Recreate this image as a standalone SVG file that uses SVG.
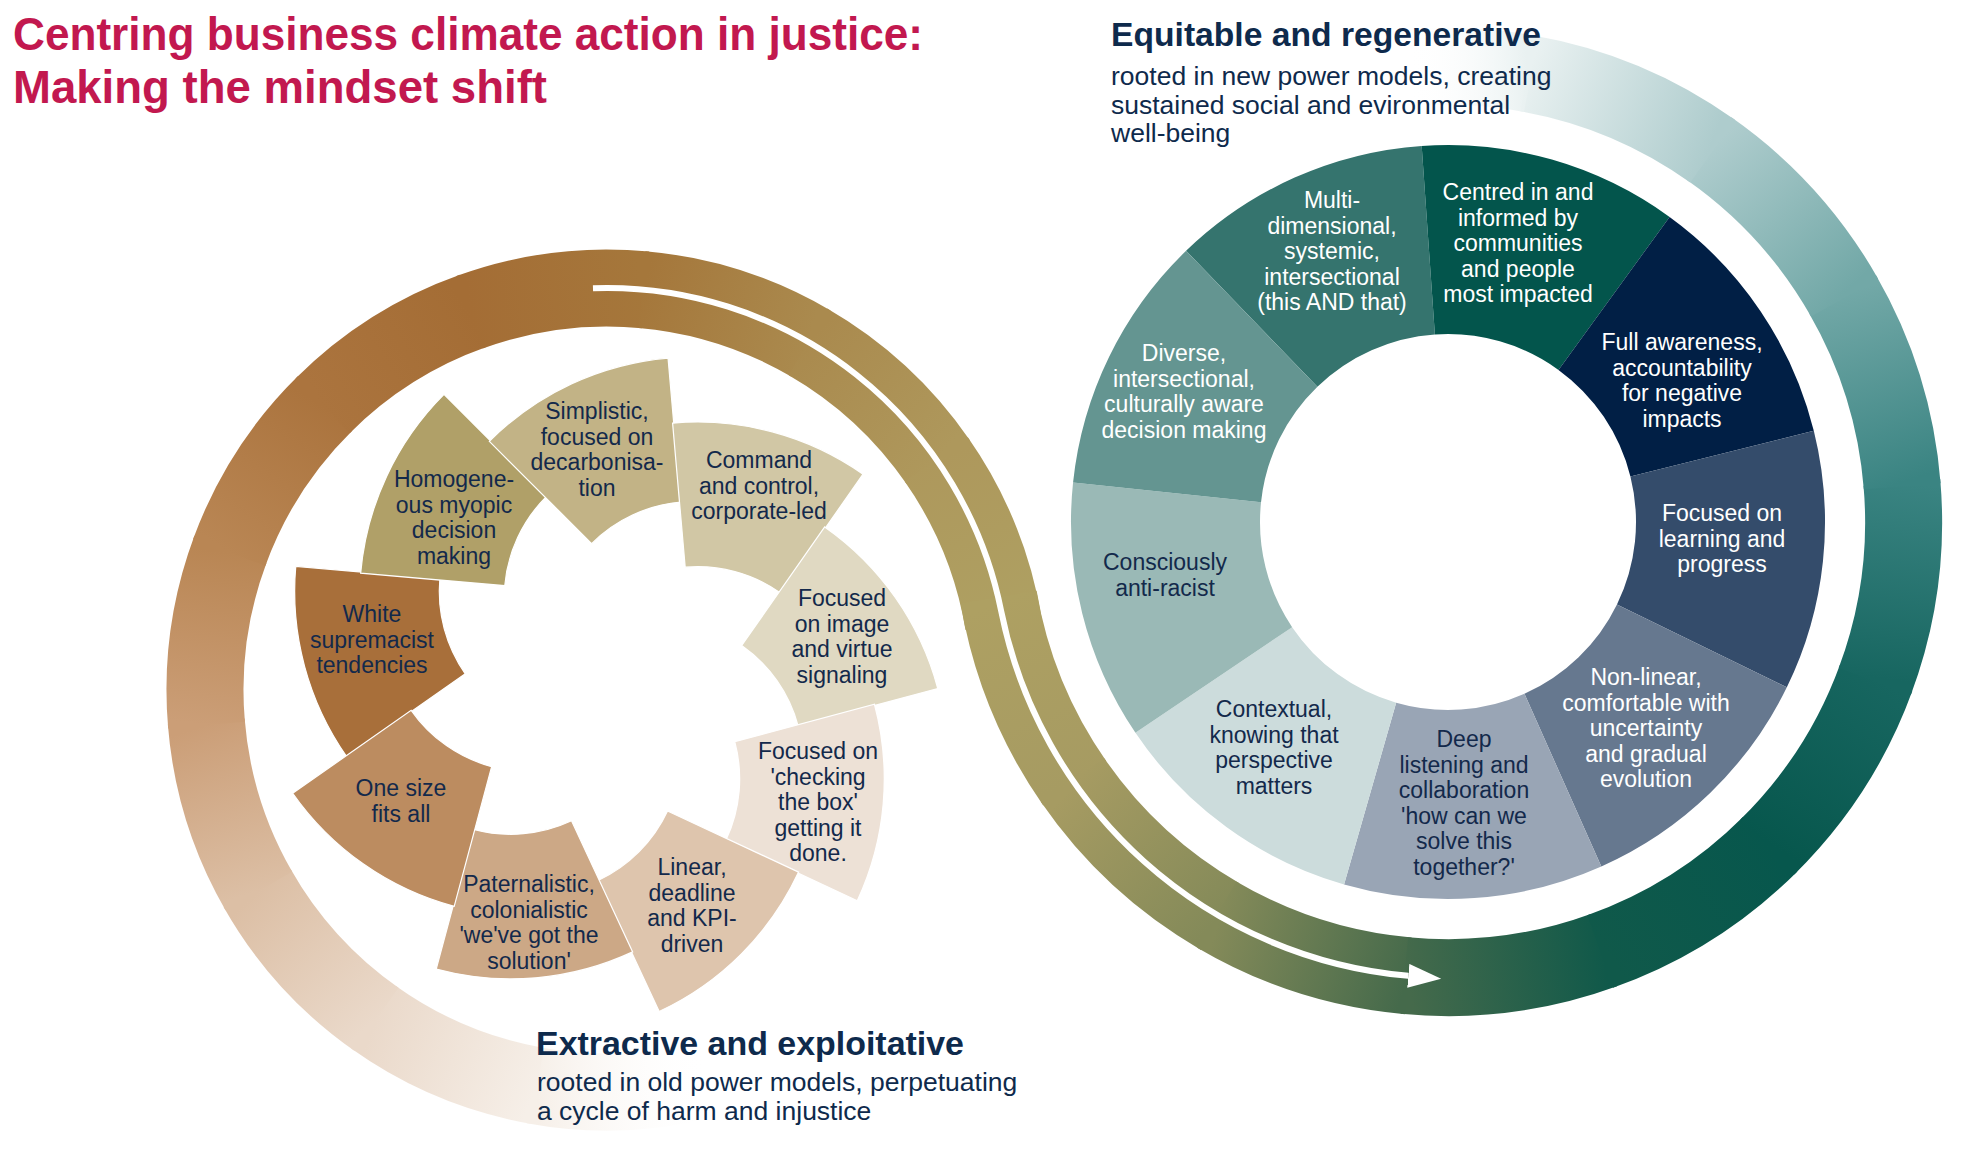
<svg xmlns="http://www.w3.org/2000/svg" xmlns:xlink="http://www.w3.org/1999/xlink" width="1970" height="1152" viewBox="0 0 1970 1152">
<style>
.t{font-family:"Liberation Sans",Arial,sans-serif;font-weight:bold;font-size:46px;fill:#c2184f}
.h{font-family:"Liberation Sans",Arial,sans-serif;font-weight:bold;font-size:33.5px;fill:#0e2a4c}
.s{font-family:"Liberation Sans",Arial,sans-serif;font-size:26.5px;fill:#0e2a4c}
.l{font-family:"Liberation Sans",Arial,sans-serif;font-size:23px;fill:#13294b;text-anchor:middle}
.w{fill:#ffffff}
.bd{fill:none;stroke-width:77}
.pt{stroke:#ffffff;stroke-width:1.2}
</style>
<defs>
<path id="pet" d="M-7.78 -265.14 A284 284 0 0 1 186.46 -268.53 L140.07 -133.79 A141.5 141.5 0 0 0 43.29 -132.10 Z"/>
<path id="seg" d="M1825 522 A377 377 0 0 1 1736.80 764.33 L1592.02 642.84 A188 188 0 0 0 1636 522 Z"/>
<path id="bl" d="M1009 690 A402 402 0 0 1 969.84 863.07"/>
<path id="br" d="M1903.6 522 A455.6 455.6 0 0 1 1859.22 718.14"/>
<linearGradient id="gl" gradientUnits="userSpaceOnUse" x1="1009" y1="690" x2="971.34" y2="859.89"/>
<linearGradient id="gr" gradientUnits="userSpaceOnUse" x1="1903.6" y1="522" x2="1860.92" y2="714.55"/>
<linearGradient id="l75" xlink:href="#gl"><stop offset="0" stop-color="#ffffff" stop-opacity="0"/><stop offset="1" stop-color="#f6efe8"/></linearGradient>
<linearGradient id="l100" xlink:href="#gl"><stop offset="0" stop-color="#f6efe8"/><stop offset="1" stop-color="#ead9ca"/></linearGradient>
<linearGradient id="l125" xlink:href="#gl"><stop offset="0" stop-color="#ead9ca"/><stop offset="1" stop-color="#dcbfa5"/></linearGradient>
<linearGradient id="l150" xlink:href="#gl"><stop offset="0" stop-color="#dcbfa5"/><stop offset="1" stop-color="#cb9e77"/></linearGradient>
<linearGradient id="l175" xlink:href="#gl"><stop offset="0" stop-color="#cb9e77"/><stop offset="1" stop-color="#b98654"/></linearGradient>
<linearGradient id="l200" xlink:href="#gl"><stop offset="0" stop-color="#b98654"/><stop offset="1" stop-color="#ab743e"/></linearGradient>
<linearGradient id="l225" xlink:href="#gl"><stop offset="0" stop-color="#ab743e"/><stop offset="1" stop-color="#a46d35"/></linearGradient>
<linearGradient id="l250" xlink:href="#gl"><stop offset="0" stop-color="#a46d35"/><stop offset="1" stop-color="#a5773b"/></linearGradient>
<linearGradient id="l275" xlink:href="#gl"><stop offset="0" stop-color="#a5773b"/><stop offset="1" stop-color="#aa8a4e"/></linearGradient>
<linearGradient id="l300" xlink:href="#gl"><stop offset="0" stop-color="#aa8a4e"/><stop offset="1" stop-color="#ae985c"/></linearGradient>
<linearGradient id="l325" xlink:href="#gl"><stop offset="0" stop-color="#ae985c"/><stop offset="1" stop-color="#aea062"/></linearGradient>
<linearGradient id="r145" xlink:href="#gr"><stop offset="0" stop-color="#a69b62"/><stop offset="1" stop-color="#aea062"/></linearGradient>
<linearGradient id="r120" xlink:href="#gr"><stop offset="0" stop-color="#848a59"/><stop offset="1" stop-color="#a69b62"/></linearGradient>
<linearGradient id="r95" xlink:href="#gr"><stop offset="0" stop-color="#456a4b"/><stop offset="1" stop-color="#848a59"/></linearGradient>
<linearGradient id="r70" xlink:href="#gr"><stop offset="0" stop-color="#10594a"/><stop offset="1" stop-color="#456a4b"/></linearGradient>
<linearGradient id="r45" xlink:href="#gr"><stop offset="0" stop-color="#07574d"/><stop offset="1" stop-color="#10594a"/></linearGradient>
<linearGradient id="r20" xlink:href="#gr"><stop offset="0" stop-color="#176660"/><stop offset="1" stop-color="#07574d"/></linearGradient>
<linearGradient id="rm5" xlink:href="#gr"><stop offset="0" stop-color="#3a8482"/><stop offset="1" stop-color="#176660"/></linearGradient>
<linearGradient id="rm30" xlink:href="#gr"><stop offset="0" stop-color="#72a8a7"/><stop offset="1" stop-color="#3a8482"/></linearGradient>
<linearGradient id="rm55" xlink:href="#gr"><stop offset="0" stop-color="#aecccd"/><stop offset="1" stop-color="#72a8a7"/></linearGradient>
<linearGradient id="rm80" xlink:href="#gr"><stop offset="0" stop-color="#e9f1f1"/><stop offset="1" stop-color="#aecccd"/></linearGradient>
<linearGradient id="rm105" xlink:href="#gr"><stop offset="0" stop-color="#ffffff" stop-opacity="0"/><stop offset="0.4" stop-color="#ffffff" stop-opacity="0"/><stop offset="1" stop-color="#e9f1f1"/></linearGradient>
<marker id="ah" markerUnits="userSpaceOnUse" viewBox="0 0 33 24" markerWidth="33" markerHeight="24" refX="0" refY="12" orient="auto"><path d="M0 0 L33 12 L0 24 Z" fill="#ffffff"/></marker>
</defs>

<g id="connectors">
<use xlink:href="#bl" class="bd" transform="rotate(75 607 690)" stroke="url(#l75)"/>
<use xlink:href="#bl" class="bd" transform="rotate(100 607 690)" stroke="url(#l100)"/>
<use xlink:href="#bl" class="bd" transform="rotate(125 607 690)" stroke="url(#l125)"/>
<use xlink:href="#bl" class="bd" transform="rotate(150 607 690)" stroke="url(#l150)"/>
<use xlink:href="#bl" class="bd" transform="rotate(175 607 690)" stroke="url(#l175)"/>
<use xlink:href="#bl" class="bd" transform="rotate(200 607 690)" stroke="url(#l200)"/>
<use xlink:href="#bl" class="bd" transform="rotate(225 607 690)" stroke="url(#l225)"/>
<use xlink:href="#bl" class="bd" transform="rotate(250 607 690)" stroke="url(#l250)"/>
<use xlink:href="#bl" class="bd" transform="rotate(275 607 690)" stroke="url(#l275)"/>
<use xlink:href="#bl" class="bd" transform="rotate(300 607 690)" stroke="url(#l300)"/>
<use xlink:href="#bl" class="bd" transform="rotate(325 607 690)" stroke="url(#l325)"/>
<use xlink:href="#br" class="bd" transform="rotate(145 1448 522)" stroke="url(#r145)"/>
<use xlink:href="#br" class="bd" transform="rotate(120 1448 522)" stroke="url(#r120)"/>
<use xlink:href="#br" class="bd" transform="rotate(95 1448 522)" stroke="url(#r95)"/>
<use xlink:href="#br" class="bd" transform="rotate(70 1448 522)" stroke="url(#r70)"/>
<use xlink:href="#br" class="bd" transform="rotate(45 1448 522)" stroke="url(#r45)"/>
<use xlink:href="#br" class="bd" transform="rotate(20 1448 522)" stroke="url(#r20)"/>
<use xlink:href="#br" class="bd" transform="rotate(-5 1448 522)" stroke="url(#rm5)"/>
<use xlink:href="#br" class="bd" transform="rotate(-30 1448 522)" stroke="url(#rm30)"/>
<use xlink:href="#br" class="bd" transform="rotate(-55 1448 522)" stroke="url(#rm55)"/>
<use xlink:href="#br" class="bd" transform="rotate(-80 1448 522)" stroke="url(#rm80)"/>
<use xlink:href="#br" class="bd" transform="rotate(-105 1448 522)" stroke="url(#rm105)"/>
<path id="arrow" d="M592.97 288.24 A402 402 0 0 1 1001.22 611.25 A455.6 455.6 0 0 0 1408.29 975.86" fill="none" stroke="#ffffff" stroke-width="6" marker-end="url(#ah)"/>
</g>

<g id="petal-white">
<use xlink:href="#pet" class="pt" transform="translate(606 684) rotate(256) scale(1.015)" fill="#a86f3a"/>
<text class="l" x="372" y="622">White<tspan x="372" dy="25.5">supremacist</tspan><tspan x="372" dy="25.5">tendencies</tspan></text>
</g>
<g id="petal-homogeneous">
<use xlink:href="#pet" class="pt" transform="translate(606 684) rotate(296) scale(1.015)" fill="#b0a068"/>
<text class="l" x="454" y="487">Homogene-<tspan x="454" dy="25.5">ous myopic</tspan><tspan x="454" dy="25.5">decision</tspan><tspan x="454" dy="25.5">making</tspan></text>
</g>
<g id="petal-simplistic">
<use xlink:href="#pet" class="pt" transform="translate(606 684) rotate(-24) scale(1.015)" fill="#c2b386"/>
<text class="l" x="597" y="419">Simplistic,<tspan x="597" dy="25.5">focused on</tspan><tspan x="597" dy="25.5">decarbonisa-</tspan><tspan x="597" dy="25.5">tion</tspan></text>
</g>
<g id="petal-command">
<use xlink:href="#pet" class="pt" transform="translate(606 684) rotate(16) scale(1.015)" fill="#d1c7a5"/>
<text class="l" x="759" y="468">Command<tspan x="759" dy="25.5">and control,</tspan><tspan x="759" dy="25.5">corporate-led</tspan></text>
</g>
<g id="petal-image">
<use xlink:href="#pet" class="pt" transform="translate(606 684) rotate(56) scale(1.015)" fill="#e0d9c2"/>
<text class="l" x="842" y="606">Focused<tspan x="842" dy="25.5">on image</tspan><tspan x="842" dy="25.5">and virtue</tspan><tspan x="842" dy="25.5">signaling</tspan></text>
</g>
<g id="petal-checking">
<use xlink:href="#pet" class="pt" transform="translate(606 684) rotate(96) scale(1.015)" fill="#ede1d6"/>
<text class="l" x="818" y="759">Focused on<tspan x="818" dy="25.5">'checking</tspan><tspan x="818" dy="25.5">the box'</tspan><tspan x="818" dy="25.5">getting it</tspan><tspan x="818" dy="25.5">done.</tspan></text>
</g>
<g id="petal-linear">
<use xlink:href="#pet" class="pt" transform="translate(606 684) rotate(136) scale(1.015)" fill="#dec5ad"/>
<text class="l" x="692" y="875">Linear,<tspan x="692" dy="25.5">deadline</tspan><tspan x="692" dy="25.5">and KPI-</tspan><tspan x="692" dy="25.5">driven</tspan></text>
</g>
<g id="petal-paternalistic">
<use xlink:href="#pet" class="pt" transform="translate(606 684) rotate(176) scale(1.015)" fill="#cca886"/>
<text class="l" x="529" y="892">Paternalistic,<tspan x="529" dy="25.5">colonialistic</tspan><tspan x="529" dy="25.5">'we've got the</tspan><tspan x="529" dy="25.5">solution'</tspan></text>
</g>
<g id="petal-onesize">
<use xlink:href="#pet" class="pt" transform="translate(606 684) rotate(216) scale(1.015)" fill="#bc8c60"/>
<text class="l" x="401" y="796">One size<tspan x="401" dy="25.5">fits all</tspan></text>
</g>

<g id="seg-multi">
<use xlink:href="#seg" transform="rotate(-134 1448 522)" fill="#35746e"/>
<text class="l w" x="1332" y="208">Multi-<tspan x="1332" dy="25.5">dimensional,</tspan><tspan x="1332" dy="25.5">systemic,</tspan><tspan x="1332" dy="25.5">intersectional</tspan><tspan x="1332" dy="25.5">(this AND that)</tspan></text>
</g>
<g id="seg-centred">
<use xlink:href="#seg" transform="rotate(-94 1448 522)" fill="#03554c"/>
<text class="l w" x="1518" y="200">Centred in and<tspan x="1518" dy="25.5">informed by</tspan><tspan x="1518" dy="25.5">communities</tspan><tspan x="1518" dy="25.5">and people</tspan><tspan x="1518" dy="25.5">most impacted</tspan></text>
</g>
<g id="seg-awareness">
<use xlink:href="#seg" transform="rotate(-54 1448 522)" fill="#011f45"/>
<text class="l w" x="1682" y="350">Full awareness,<tspan x="1682" dy="25.5">accountability</tspan><tspan x="1682" dy="25.5">for negative</tspan><tspan x="1682" dy="25.5">impacts</tspan></text>
</g>
<g id="seg-learning">
<use xlink:href="#seg" transform="rotate(-14 1448 522)" fill="#344c6b"/>
<text class="l w" x="1722" y="521">Focused on<tspan x="1722" dy="25.5">learning and</tspan><tspan x="1722" dy="25.5">progress</tspan></text>
</g>
<g id="seg-nonlinear">
<use xlink:href="#seg" transform="rotate(26 1448 522)" fill="#66788f"/>
<text class="l w" x="1646" y="685">Non-linear,<tspan x="1646" dy="25.5">comfortable with</tspan><tspan x="1646" dy="25.5">uncertainty</tspan><tspan x="1646" dy="25.5">and gradual</tspan><tspan x="1646" dy="25.5">evolution</tspan></text>
</g>
<g id="seg-deep">
<use xlink:href="#seg" transform="rotate(66 1448 522)" fill="#99a5b5"/>
<text class="l" x="1464" y="747">Deep<tspan x="1464" dy="25.5">listening and</tspan><tspan x="1464" dy="25.5">collaboration</tspan><tspan x="1464" dy="25.5">'how can we</tspan><tspan x="1464" dy="25.5">solve this</tspan><tspan x="1464" dy="25.5">together?'</tspan></text>
</g>
<g id="seg-contextual">
<use xlink:href="#seg" transform="rotate(106 1448 522)" fill="#ccdcdc"/>
<text class="l" x="1274" y="717">Contextual,<tspan x="1274" dy="25.5">knowing that</tspan><tspan x="1274" dy="25.5">perspective</tspan><tspan x="1274" dy="25.5">matters</tspan></text>
</g>
<g id="seg-antiracist">
<use xlink:href="#seg" transform="rotate(146 1448 522)" fill="#9ab9b6"/>
<text class="l" x="1165" y="570">Consciously<tspan x="1165" dy="25.5">anti-racist</tspan></text>
</g>
<g id="seg-diverse">
<use xlink:href="#seg" transform="rotate(186 1448 522)" fill="#649591"/>
<text class="l w" x="1184" y="361">Diverse,<tspan x="1184" dy="25.5">intersectional,</tspan><tspan x="1184" dy="25.5">culturally aware</tspan><tspan x="1184" dy="25.5">decision making</tspan></text>
</g>

<g id="title">
<text class="t" x="13" y="50" textLength="910" lengthAdjust="spacingAndGlyphs">Centring business climate action in justice:</text>
<text class="t" x="13" y="103" textLength="534" lengthAdjust="spacingAndGlyphs">Making the mindset shift</text>
</g>
<g id="heading-equitable">
<text class="h" x="1111" y="46" textLength="430" lengthAdjust="spacingAndGlyphs">Equitable and regenerative</text>
<text class="s" x="1111" y="85">rooted in new power models, creating<tspan x="1111" dy="28.5">sustained social and evironmental</tspan><tspan x="1111" dy="28.5">well-being</tspan></text>
</g>
<g id="heading-extractive">
<text class="h" x="536" y="1055" textLength="428" lengthAdjust="spacingAndGlyphs">Extractive and exploitative</text>
<text class="s" x="537" y="1091">rooted in old power models, perpetuating<tspan x="537" dy="29">a cycle of harm and injustice</tspan></text>
</g>
</svg>
